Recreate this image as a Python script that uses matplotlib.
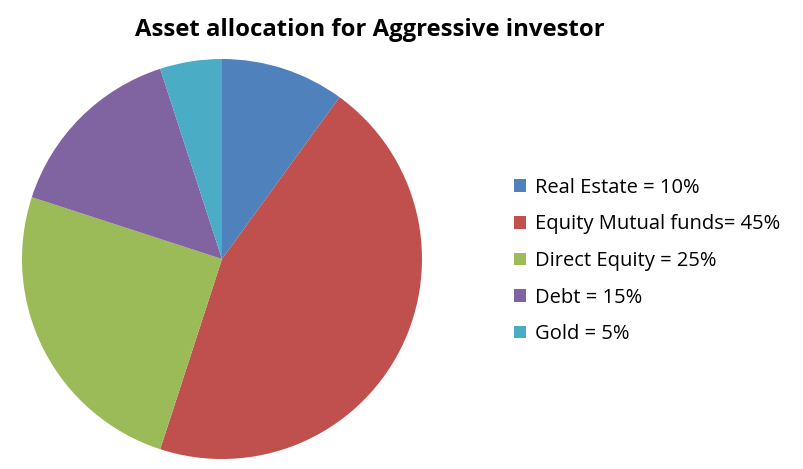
import matplotlib.pyplot as plt
from matplotlib.patches import Patch

# data
labels = ['Real Estate = 10%', 'Equity Mutual funds= 45%', 'Direct Equity = 25%',
          'Debt = 15%', 'Gold = 5%']
shares = [10, 45, 25, 15, 5]
colors = ['#4F81BD', '#C0504D', '#9BBB59', '#8064A2', '#4BACC6']

plt.rcParams['font.family'] = ['Open Sans', 'DejaVu Sans']

W, H = 804, 469
fig = plt.figure(figsize=(W / 100, H / 100), dpi=100)

# pie centre (222, 259), radius 200 px
cx, cy, r = 222, 259, 200
ax = fig.add_axes([(cx - r) / W, (H - cy - r) / H, 2 * r / W, 2 * r / H])
ax.pie(shares, colors=colors, startangle=90, counterclock=False, radius=1,
       wedgeprops=dict(linewidth=0))
ax.set_xlim(-1, 1)
ax.set_ylim(-1, 1)
ax.set_aspect('equal')
ax.axis('off')

fig.text(370 / W, 1 - 30 / H, 'Asset allocation for Aggressive investor',
         ha='center', va='center', fontsize=17.2, fontweight='bold')

handles = [Patch(facecolor=c, edgecolor='none') for c in colors]
leg = fig.legend(handles, labels, loc='center left',
                 bbox_to_anchor=(514 / W, 1 - 261 / H),
                 frameon=False, fontsize=14.5, handlelength=0.6,
                 handleheight=0.6, handletextpad=0.45, labelspacing=0.82,
                 borderaxespad=0, borderpad=0)

fig.savefig('out.png', dpi=100)
